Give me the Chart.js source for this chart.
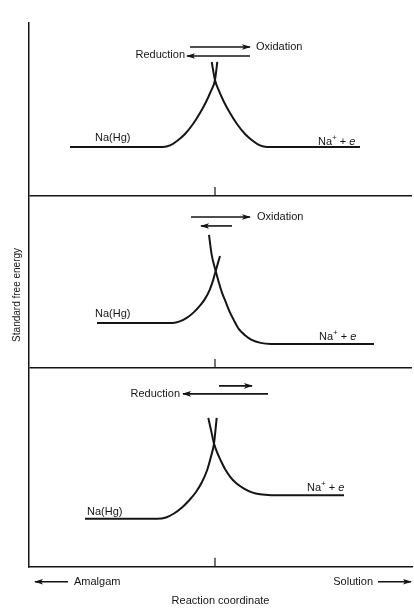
<!DOCTYPE html>
<html>
<head>
<meta charset="utf-8">
<script src="https://cdn.jsdelivr.net/npm/chart.js@4.4.0/dist/chart.umd.min.js"></script>
<style>
  html, body { margin: 0; padding: 0; background: #fff; overflow: hidden; }
  #wrap { width: 414px; height: 611px; overflow: hidden; }
  #wrap canvas { display: block; }
</style>
</head>
<body>
<div id="wrap"><canvas id="energyChart"></canvas></div>
<script>
// x = reaction coordinate (0 at the activated state), y = standard free energy
// the three situations are stacked in one plot, separated at panelBreaks
const panelBreaks = [19.9, 37.1];
const tickBases = [0, 19.9, 37.1];

// top: at equilibrium
const p1Amalgam = [[-14.5, 42.0], [-5.2, 42.0], [-4.5, 42.15], [-3.8, 42.6], [-3.0, 43.3], [-2.2, 44.3], [-1.5, 45.4], [-0.9, 46.5], [-0.4, 47.6], [0, 48.7], [0.23, 50.5]];
const p1Solution = [[-0.33, 50.5], [0, 48.7], [0.4, 47.6], [0.9, 46.5], [1.5, 45.4], [2.2, 44.3], [3.0, 43.3], [3.8, 42.6], [4.5, 42.15], [5.2, 42.0], [14.5, 42.0]];
// middle: oxidation favoured
const p2Amalgam = [[-11.8, 24.4], [-4.23, 24.4], [-3.53, 24.55], [-2.83, 24.9], [-2.13, 25.45], [-1.53, 26.1], [-1.03, 26.75], [-0.53, 27.7], [-0.18, 28.7], [0.07, 29.6], [0.5, 31.1]];
const p2Solution = [[-0.6, 33.2], [-0.33, 31.2], [0.07, 29.6], [0.37, 28.5], [0.67, 27.5], [1.07, 26.5], [1.47, 25.5], [1.87, 24.7], [2.37, 23.8], [2.97, 23.2], [3.67, 22.7], [4.57, 22.4], [5.57, 22.3], [15.9, 22.3]];
// bottom: reduction favoured
const p3Amalgam = [[-13.0, 4.8], [-5.8, 4.8], [-4.9, 4.93], [-4.1, 5.33], [-3.3, 5.93], [-2.6, 6.63], [-1.9, 7.48], [-1.3, 8.48], [-0.8, 9.63], [-0.4, 11.03], [-0.1, 12.33], [0.17, 14.9]];
const p3Solution = [[-0.67, 14.9], [-0.35, 13.45], [-0.1, 12.33], [0.2, 11.48], [0.6, 10.58], [1.0, 9.78], [1.5, 9.03], [2.1, 8.38], [2.9, 7.83], [3.7, 7.45], [4.5, 7.25], [5.6, 7.17], [12.9, 7.17]];

// rate arrows, [tail, tip]
const rateArrows = [
  [[-2.5, 52.0], [3.5, 52.0]],
  [[3.5, 51.1], [-2.8, 51.1]],
  [[-2.4, 35.0], [3.5, 35.0]],
  [[1.7, 34.1], [-1.4, 34.1]],
  [[0.4, 18.1], [3.7, 18.1]],
  [[5.3, 17.3], [-3.2, 17.3]]
];
const sideArrows = [
  [[-14.7, -1.5], [-18.0, -1.5]],
  [[16.3, -1.5], [19.6, -1.5]]
];

const notes = [
  { parts: ['Reduction'], x: -3.0, y: 51.2, align: 'right' },
  { parts: ['Oxidation'], x: 4.1, y: 52.0, align: 'left' },
  { parts: ['Na(Hg)'], x: -12.0, y: 42.9, align: 'left' },
  { parts: ['Na', '^+', ' + ', '_e'], x: 10.3, y: 42.5, align: 'left' },
  { parts: ['Oxidation'], x: 4.2, y: 35.0, align: 'left' },
  { parts: ['Na(Hg)'], x: -12.0, y: 25.3, align: 'left' },
  { parts: ['Na', '^+', ' + ', '_e'], x: 10.4, y: 23.0, align: 'left' },
  { parts: ['Reduction'], x: -3.5, y: 17.3, align: 'right' },
  { parts: ['Na(Hg)'], x: -12.8, y: 5.5, align: 'left' },
  { parts: ['Na', '^+', ' + ', '_e'], x: 9.2, y: 7.9, align: 'left' },
  { parts: ['Amalgam'], x: -14.1, y: -1.5, align: 'left' },
  { parts: ['Solution'], x: 15.8, y: -1.5, align: 'right' }
];

const ink = '#151515';
const face = '"Liberation Sans", Arial, Helvetica, sans-serif';

const toXY = pts => pts.map(([x, y]) => ({ x, y }));

function curve(pts) {
  return {
    data: toXY(pts),
    showLine: true,
    borderColor: ink,
    borderWidth: 2,
    pointRadius: 0,
    cubicInterpolationMode: 'monotone'
  };
}

function shaft(seg) {
  return {
    data: toXY(seg),
    showLine: true,
    borderColor: ink,
    borderWidth: 1.6,
    pointRadius: 0,
    clip: false
  };
}

function midTick(base) {
  return {
    data: [{ x: 0, y: base }, { x: 0, y: base + 0.9 }],
    showLine: true,
    borderColor: ink,
    borderWidth: 1.2,
    pointRadius: 0
  };
}

function fontOf(part, size) {
  if (part.startsWith('_')) return 'italic ' + size + 'px ' + face;
  if (part.startsWith('^')) return (size - 3) + 'px ' + face;
  return size + 'px ' + face;
}

// arrow heads and the text notes, placed through the chart scales
const overlayPlugin = {
  id: 'overlay',
  afterDatasetsDraw(chart) {
    const { ctx, scales: { x, y } } = chart;
    ctx.save();
    ctx.fillStyle = ink;

    [...rateArrows, ...sideArrows].forEach(seg => {
      const tx = x.getPixelForValue(seg[1][0]);
      const ty = y.getPixelForValue(seg[1][1]);
      const dir = seg[1][0] > seg[0][0] ? 1 : -1;
      ctx.beginPath();
      ctx.moveTo(tx + dir * 1, ty);
      ctx.lineTo(tx - dir * 8, ty - 2.8);
      ctx.lineTo(tx - dir * 6, ty);
      ctx.lineTo(tx - dir * 8, ty + 2.8);
      ctx.closePath();
      ctx.fill();
    });

    const size = 11;
    ctx.textBaseline = 'middle';
    ctx.textAlign = 'left';
    notes.forEach(n => {
      let total = 0;
      n.parts.forEach(p => {
        ctx.font = fontOf(p, size);
        total += ctx.measureText(p.replace(/^[_^]/, '')).width;
      });
      let px = x.getPixelForValue(n.x);
      if (n.align === 'right') px -= total;
      const py = y.getPixelForValue(n.y);
      n.parts.forEach(p => {
        const t = p.replace(/^[_^]/, '');
        ctx.font = fontOf(p, size);
        ctx.fillText(t, px, p.startsWith('^') ? py - 4 : py);
        px += ctx.measureText(t).width;
      });
    });
    ctx.restore();
  }
};

const datasets = [
  curve(p1Amalgam), curve(p1Solution),
  curve(p2Amalgam), curve(p2Solution),
  curve(p3Amalgam), curve(p3Solution),
  ...rateArrows.map(shaft),
  ...sideArrows.map(shaft),
  ...tickBases.map(midTick)
];

new Chart(document.getElementById('energyChart'), {
  type: 'scatter',
  data: { datasets },
  plugins: [overlayPlugin],
  options: {
    responsive: true,
    maintainAspectRatio: false,
    animation: false,
    events: [],
    layout: { padding: { top: 23, right: 2, left: 0, bottom: 0 } },
    plugins: {
      legend: { display: false },
      tooltip: { enabled: false }
    },
    scales: {
      x: {
        type: 'linear',
        min: -18.6,
        max: 19.7,
        grid: { display: false, drawTicks: false, tickLength: 0 },
        border: { display: true, color: ink, width: 1.5 },
        ticks: { display: false },
        title: {
          display: true,
          text: 'Reaction coordinate',
          color: ink,
          font: { family: face, size: 11 },
          padding: { top: 28, bottom: 3 }
        }
      },
      y: {
        type: 'linear',
        min: 0,
        max: 54.4,
        afterBuildTicks: s => { s.ticks = panelBreaks.map(v => ({ value: v })); },
        grid: { color: ink, lineWidth: 1.5, drawTicks: false, tickLength: 0 },
        border: { display: true, color: ink, width: 1.5 },
        ticks: { display: false },
        title: {
          display: true,
          text: 'Standard free energy',
          color: ink,
          font: { family: face, size: 10 },
          padding: { top: 11, bottom: 6 }
        }
      }
    }
  }
});
</script>
</body>
</html>
